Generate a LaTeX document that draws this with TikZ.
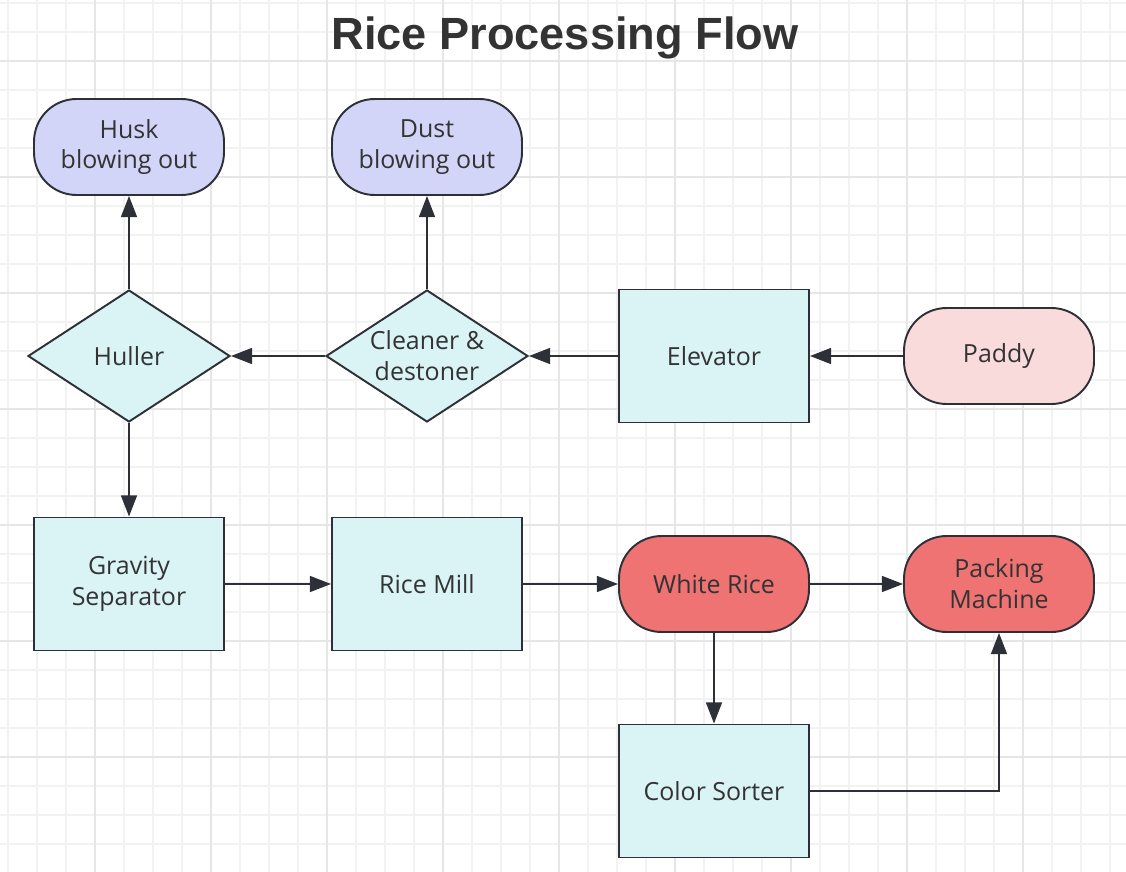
\documentclass[tikz,border=0pt]{standalone}
\usepackage{fontspec}
\setmainfont{Open Sans}
\newfontfamily\titlefont{Liberation Sans}
\usepackage{tikz}
\usetikzlibrary{shapes.geometric}
\usetikzlibrary{arrows.meta}
\usetikzlibrary{calc}

\definecolor{edgegray}{HTML}{2E3038}
\definecolor{txtgray}{HTML}{333333}
\definecolor{boxcyan}{HTML}{DAF3F5}
\definecolor{pilllav}{HTML}{D3D5F8}
\definecolor{pillpink}{HTML}{FADBDB}
\definecolor{pillred}{HTML}{EE7372}
\definecolor{gridminor}{HTML}{F2F2F2}
\definecolor{gridmajor}{HTML}{E6E6E6}

\begin{document}
\begin{tikzpicture}[x=0.02cm, y=-0.02cm,
    every node/.style={text=txtgray, font=\fontsize{14.2}{17.6}\selectfont, align=center},
    box/.style={rectangle, draw=edgegray, line width=1.1pt, fill=boxcyan, minimum width=3.8cm, minimum height=2.66cm},
    pill/.style={rectangle, rounded corners=0.85cm, draw=edgegray, line width=1.1pt, minimum width=3.8cm, minimum height=1.92cm},
    decision/.style={diamond, draw=edgegray, line width=1.1pt, fill=boxcyan, minimum width=4.04cm, minimum height=2.64cm, inner sep=0pt},
    flow/.style={draw=edgegray, line width=1.1pt, -{Triangle[length=12pt, width=9pt]}}]

        % Fix the page size
        \useasboundingbox[fill=white] (0,0) rectangle (1126,872);

        % Draw the background grid
        \foreach \gx in {8,37,...,1126}
          \draw[gridminor, line width=0.7pt] (\gx,0) -- (\gx,872);
        \foreach \gy in {3,32,...,872}
          \draw[gridminor, line width=0.7pt] (0,\gy) -- (1126,\gy);
        \foreach \gx in {95,211,...,1126}
          \draw[gridmajor, line width=0.8pt] (\gx,0) -- (\gx,872);
        \foreach \gy in {61,177,...,872}
          \draw[gridmajor, line width=0.8pt] (0,\gy) -- (1126,\gy);

        % Title
        \node[anchor=base, font=\titlefont\bfseries\fontsize{25.7}{30}\selectfont] (title) at (565,50) {Rice Processing Flow};

        % Top row: waste outlets
        \node[pill, fill=pilllav] (husk) at (129,147) {Husk\\blowing out};
        \node[pill, fill=pilllav] (dust) at (427,147) {Dust\\blowing out};

        % Middle row
        \node[decision, label=center:{Huller}] (huller) at (129,356) {};
        \node[decision, label=center:{Cleaner \&\\destoner}] (cleaner) at (427,356) {};
        \node[box] (elevator) at (714,356) {Elevator};
        \node[pill, fill=pillpink] (paddy) at (999,356) {Paddy};

        % Bottom row
        \node[box] (gravity) at (129,584) {Gravity\\Separator};
        \node[box] (mill) at (427,584) {Rice Mill};
        \node[pill, fill=pillred] (white) at (714,584) {White Rice};
        \node[pill, fill=pillred] (packing) at (999,584) {Packing\\Machine};
        \node[box] (sorter) at (714,791) {Color Sorter};

        % Connect the steps
        \draw[flow] (paddy) -- (elevator);
        \draw[flow] (elevator) -- (cleaner);
        \draw[flow] (cleaner) -- (huller);
        \draw[flow] (cleaner) -- (dust);
        \draw[flow] (huller) -- (husk);
        \draw[flow] (huller) -- (gravity);
        \draw[flow] (gravity) -- (mill);
        \draw[flow] (mill) -- (white);
        \draw[flow] (white) -- (packing);
        \draw[flow] (white) -- (sorter);
        \draw[flow] (sorter.east) -| (packing.south);
      \end{tikzpicture}
\end{document}
